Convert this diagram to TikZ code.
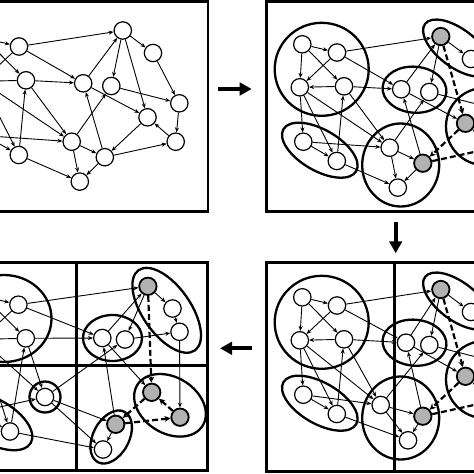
\documentclass[tikz,border=0pt]{standalone}
\usetikzlibrary{arrows.meta}
\definecolor{gnode}{RGB}{178,178,178}
\tikzset{
  vtx/.style={circle, draw, line width=1.2pt, fill=white, minimum size=17.4pt, inner sep=0pt},
  gvtx/.style={vtx, fill=gnode, line width=1.8pt},
  link/.style={line width=0.9pt, -{Stealth[length=5pt,width=4pt]}},
  dlink/.style={line width=2.2pt, dash pattern=on 6pt off 3pt, -{Stealth[length=6pt,width=6pt]}},
  clus/.style={line width=2.3pt},
  panelframe/.style={line width=2.8pt},
  panelline/.style={line width=2.5pt},
  bigarrow/.style={line width=4.3pt, -{Triangle[length=12pt,width=12.5pt]}},
}
\newcommand\stdnodes[5]{%
  \node[vtx] (#1A1) at (302.3,44.3) {};
  \node[vtx] (#1A2) at (337,52.5) {};
  \node[vtx] (#1A3) at (299.8,87.3) {};
  \node[vtx] (#1A4) at (344,86.3) {};
  \node[vtx] (#1B1) at (303.3,141.7) {};
  \node[vtx] (#1B2) at (336.8,161) {};
  \node[vtx] (#1C1) at (#3) {};
  \node[vtx] (#1C2) at (429.3,92) {};
  \node[vtx] (#1D1) at (#4) {};
  \node[#2] (#1D2) at (422.8,163.2) {};
  \node[vtx] (#1D3) at (#5) {};
  \node[#2] (#1E1) at (440.8,36.5) {};
  \node[vtx] (#1E2) at (471,59) {};
  \node[#2] (#1F1) at (465.5,123.3) {};
  \node[vtx] (#1G) at (497.3,109.3) {};
  \node[vtx] (#1H) at (493.7,147.7) {};
}
\newcommand\commonedges[1]{%
  \foreach \a/\b in {A1/A2, A1/A3, A1/A4, A2/A3, A2/E1, A2/C1, A4/A3, A4/C1, A4/D1,
    A3/B1, A3/B2, A3/D1, B1/B2, B1/D1, B2/A4, B2/D3, C1/E1, C1/F1, C2/G, E1/C2,
    E1/E2, G/H, E2/G, D1/D2, D1/D3, D1/C2, D2/C1, D2/D3}
    \draw[link] (#1\a) -- (#1\b);
}
\newcommand\stdclusters{%
  \draw[clus] (321.7,69.3) ellipse [x radius=47, y radius=46.5];
  \draw[clus, rotate around={-30:(319.8,150.2)}] (319.8,150.2) ellipse [x radius=42, y radius=20.5];
  \draw[clus, rotate around={-5:(414.5,89.7)}] (414.5,89.7) ellipse [x radius=32, y radius=23];
  \draw[clus] (400.7,165) ellipse [x radius=38.5, y radius=41.5];
  \draw[clus, rotate around={-37:(457,48)}] (457,48) ellipse [x radius=40, y radius=19];
  \draw[clus] (484.6,126.5) circle [radius=38.6];
}
\begin{document}
\begin{tikzpicture}[x=1pt,y=-1pt]
\useasboundingbox (0,0) rectangle (474,474);
\fill[white] (0,0) rectangle (474,474);

% ---------- top-left panel: original graph
\begin{scope}
  \clip (-52,1.5) rectangle (208,211.7);
  \begin{scope}[shift={(-318,-6)}]
    \stdnodes{t}{vtx}{401.2,89.3}{389.7,147.7}{397.8,187.6}
  \end{scope}
  \commonedges{t}
  \foreach \a/\b in {E1/F1, F1/D2, D2/H, H/F1} \draw[link] (t\a) -- (t\b);
\end{scope}
\draw[panelframe] (-52,1.5) rectangle (208,211.7);

% ---------- top-right panel: clustered graph
\begin{scope}
  \clip (266.7,1.5) rectangle (526,211.7);
  \stdclusters
  \stdnodes{r}{gvtx}{401.2,89.3}{389.7,147.7}{397.8,187.6}
  \commonedges{r}
  \foreach \a/\b in {E1/F1, F1/D2, D2/H} \draw[dlink] (r\a) -- (r\b);
  \draw[link] (rH) -- (rF1);
\end{scope}
\draw[panelframe] (266.7,1.5) rectangle (526,211.7);

% ---------- bottom-right panel: split in two
\begin{scope}
  \clip (266.7,262.3) rectangle (526,471.5);
  \begin{scope}[shift={(0,253)}]
    \stdclusters
    \stdnodes{s}{gvtx}{406,89.7}{380.7,152}{408,187.3}
  \end{scope}
  \commonedges{s}
  \foreach \a/\b in {E1/F1, F1/D2, D2/H} \draw[dlink] (s\a) -- (s\b);
  \draw[link] (sH) -- (sF1);
  \draw[panelline] (394.3,262.3) -- (394.3,471.5);
\end{scope}
\draw[panelframe] (266.7,262.3) rectangle (526,471.5);

% ---------- bottom-left panel: split in four
\begin{scope}
  \clip (-52,262.3) rectangle (207.8,470.5);
  \draw[clus] (4,318.5) ellipse [x radius=47.5, y radius=43.5];
  \draw[clus, rotate around={-30:(-6.5,421.5)}] (-6.5,421.5) ellipse [x radius=43, y radius=22];
  \draw[clus] (45,397) circle [radius=15.5];
  \draw[clus] (112.5,338) ellipse [x radius=29.5, y radius=23];
  \draw[clus, rotate around={-55:(166.7,310.3)}] (166.7,310.3) ellipse [x radius=49, y radius=24];
  \draw[clus, rotate around={-32:(170,405.3)}] (170,405.3) ellipse [x radius=38.5, y radius=28];
  \draw[clus, rotate around={62:(111.2,437)}] (111.2,437) ellipse [x radius=28.5, y radius=18];
  \node[vtx] (lA1) at (-16.2,296.3) {};
  \node[vtx] (lA2) at (18.4,304.7) {};
  \node[vtx] (lA3) at (-18.8,339.3) {};
  \node[vtx] (lA4) at (25.8,338.3) {};
  \node[vtx] (lB1) at (-23.7,412.2) {};
  \node[vtx] (lB2) at (10,431.5) {};
  \node[vtx] (lD1) at (45,397) {};
  \node[vtx] (lC1) at (102.3,338) {};
  \node[vtx] (lC2) at (125,339.5) {};
  \node[gvtx] (lE1) at (147.9,286.3) {};
  \node[vtx] (lE2) at (172.5,308.5) {};
  \node[vtx] (lG) at (179.5,331.8) {};
  \node[gvtx] (lF1) at (151.7,392.3) {};
  \node[gvtx] (lH) at (180,417.2) {};
  \node[gvtx] (lD2) at (115.7,424.3) {};
  \node[vtx] (lD3) at (103,449.5) {};
  \commonedges{l}
  \foreach \a/\b in {E1/F1, F1/D2, D2/H, H/F1} \draw[dlink] (l\a) -- (l\b);
  \draw[panelline] (76.5,262.3) -- (76.5,470.5);
  \draw[panelline] (-52,365.3) -- (207.8,365.3);
\end{scope}
\draw[panelframe] (-52,262.3) rectangle (207.8,470.5);

% ---------- arrows between panels
\coordinate (arA) at (218.3,89);
\coordinate (arB) at (251.7,89);
\coordinate (arC) at (395.7,221.7);
\coordinate (arD) at (395.7,253.3);
\coordinate (arE) at (251.7,348.3);
\coordinate (arF) at (220,348.3);
\draw[bigarrow] (arA) -- (arB);
\draw[bigarrow] (arC) -- (arD);
\draw[bigarrow] (arE) -- (arF);
\end{tikzpicture}
\end{document}
